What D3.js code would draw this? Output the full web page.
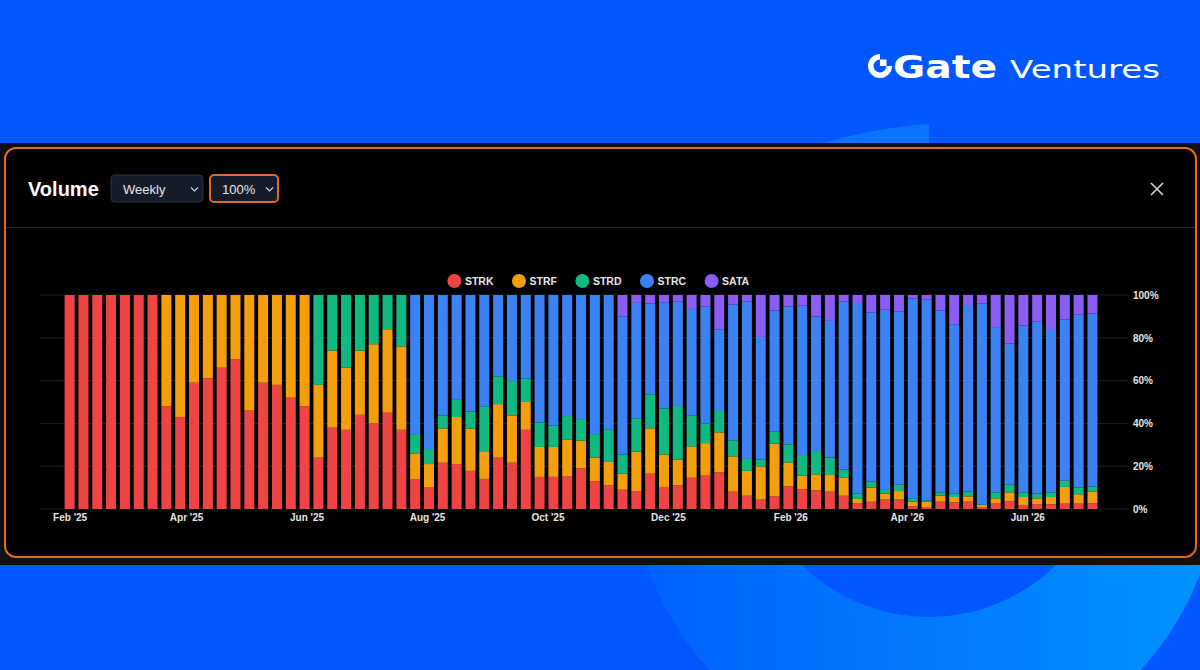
<!DOCTYPE html>
<html lang="en">
<head>
<meta charset="UTF-8">
<title>Volume</title>
<script src="https://cdn.jsdelivr.net/npm/d3@7"></script>
<style>
  body { margin: 0; background: #0057ff; }
  svg { display: block; }
</style>
</head>
<body>
<script>
// series, in stack order (share of weekly volume, %)
var keys = ["STRK", "STRF", "STRD", "STRC", "SATA"];
var colors = ["#ef4444", "#f59e0b", "#10b981", "#3b82f6", "#8b5cf6"];

var strk = [100, 100, 100, 100, 100, 100, 100, 48, 43, 59, 61, 66, 70, 46, 59, 58, 52, 48,
  24, 38, 37, 44, 40, 45, 37,
  14, 10, 21.5, 21, 18, 14, 24, 21.5, 37, 15, 15, 15, 19, 13, 11,
  9, 8.4, 16.5, 10.3, 11, 14.6, 15.6, 17.1, 8.1, 6.2, 4.4, 5.9, 10.6, 9.3, 8.7, 8.1, 6.2, 2.8,
  3.4, 4.4, 4.4, 1.2, 0.9, 3.4, 3.1, 3.4, 0.9, 2.5, 3.7, 1.9, 2.2, 2.2, 2.5, 2.5, 2.7];
var strf = [0, 0, 0, 0, 0, 0, 0, 52, 57, 41, 39, 34, 30, 54, 41, 42, 48, 52,
  34, 36, 29, 30, 37, 39, 39,
  12, 11, 16, 22, 20, 12.5, 25, 22, 13, 14, 14, 17, 13, 11, 11,
  7.5, 18.4, 21.2, 15.2, 12, 14.7, 15.2, 18.7, 16.5, 11.6, 15.5, 24.6, 11.2, 6.3, 7.5, 7.8, 8.4, 1.9,
  6.6, 2.8, 4.0, 2.2, 2.5, 2.8, 2.5, 2.5, 1.0, 2.5, 4.1, 3.7, 2.8, 3.4, 7.8, 4.4, 5.5];
var strd = [0, 0, 0, 0, 0, 0, 0, 0, 0, 0, 0, 0, 0, 0, 0, 0, 0, 0,
  42, 26, 34, 26, 23, 16, 24,
  9, 7, 6, 8, 8, 21, 13, 16, 11, 11.5, 10, 11, 10, 11, 15,
  9, 15.6, 15.9, 21.5, 25, 14.3, 9.1, 10, 7.5, 5.6, 3.2, 5.6, 8.4, 9.6, 10.9, 8.1, 3.8, 2.5,
  2.8, 2.1, 3.1, 1.6, 0.6, 1.6, 1.6, 2.2, 0.3, 2.8, 3.7, 2.2, 2.2, 2.2, 3.1, 3.1, 2.2];
var strc = [0, 0, 0, 0, 0, 0, 0, 0, 0, 0, 0, 0, 0, 0, 0, 0, 0, 0,
  0, 0, 0, 0, 0, 0, 0,
  65, 72, 56, 49, 55, 52, 38, 40, 39, 59.5, 61, 56, 58, 65, 63,
  64.5, 53.9, 42.4, 49.6, 48.6, 49.9, 54.8, 38, 63.5, 73.5, 57.3, 56.7, 64.5, 69.8, 62.9, 63.9, 78.5, 89.1,
  79.1, 83.8, 80.7, 93.4, 93.8, 85.0, 79.1, 87.2, 93.8, 77.2, 65.8, 77.9, 80.3, 76.3, 75.1, 81.0, 80.9];
var sata = [0, 0, 0, 0, 0, 0, 0, 0, 0, 0, 0, 0, 0, 0, 0, 0, 0, 0,
  0, 0, 0, 0, 0, 0, 0,
  0, 0, 0, 0, 0, 0, 0, 0, 0, 0, 0, 0, 0, 0, 0,
  10, 3.7, 4, 3.4, 3.1, 6.5, 5.3, 16.2, 4.4, 3.1, 19.6, 7.2, 5.3, 5.0, 10, 12.1, 3.1, 3.7,
  8.1, 6.9, 7.8, 1.6, 2.2, 7.2, 13.7, 4.7, 4.0, 15.0, 22.7, 14.3, 12.5, 15.9, 11.5, 9.0, 8.7];

var firstWeek = new Date(2025, 1, 1);
var xTickDates = ["2025-02-01", "2025-04-01", "2025-06-01", "2025-08-01", "2025-10-01",
  "2025-12-01", "2026-02-01", "2026-04-01", "2026-06-01"];
var yTicks = [0, 0.2, 0.4, 0.6, 0.8, 1];

var width = 1200, height = 670;
var parseDay = d3.timeParse("%Y-%m-%d");

var rows = strk.map(function (v, i) {
  return {
    date: d3.timeDay.offset(firstWeek, 7 * i),
    STRK: v, STRF: strf[i], STRD: strd[i], STRC: strc[i], SATA: sata[i]
  };
});

var svg = d3.select("body").append("svg")
  .attr("width", width)
  .attr("height", height)
  .style("font-family", "'Liberation Sans', Arial, sans-serif");

// ---- background ----
var defs = svg.append("defs");
var ringGrad = defs.append("linearGradient").attr("id", "ring")
  .attr("x1", "0").attr("x2", "1").attr("y1", "0").attr("y2", "0");
ringGrad.append("stop").attr("offset", "0").attr("stop-color", "#0060ff");
ringGrad.append("stop").attr("offset", "1").attr("stop-color", "#0094ff");
defs.append("clipPath").attr("id", "topband")
  .append("rect").attr("x", 0).attr("y", 0).attr("width", 929).attr("height", 143);

svg.append("rect").attr("width", width).attr("height", height).attr("fill", "#0057ff");
svg.append("circle").attr("cx", 925).attr("cy", 470).attr("r", 294).attr("fill", "url(#ring)");
svg.append("circle").attr("cx", 929).attr("cy", 436).attr("r", 181).attr("fill", "#0057ff");
svg.append("circle").attr("cx", 960).attr("cy", 600).attr("r", 477)
  .attr("fill", "#0a74ff").attr("clip-path", "url(#topband)");

// logo
var logo = svg.append("g").attr("fill", "#fff");
logo.append("path")
  .attr("d", d3.arc()({ innerRadius: 6.5, outerRadius: 12, startAngle: Math.PI / 2, endAngle: 2 * Math.PI }))
  .attr("transform", "translate(880,66)");
logo.append("rect").attr("x", 880).attr("y", 59.5).attr("width", 6.5).attr("height", 6.5);
logo.append("text").attr("x", 893).attr("y", 78)
  .attr("font-family", "'DejaVu Sans', sans-serif").attr("font-weight", 700)
  .attr("font-size", 32).attr("textLength", 104).attr("lengthAdjust", "spacingAndGlyphs")
  .text("Gate");
logo.append("text").attr("x", 1010).attr("y", 78)
  .attr("font-family", "'DejaVu Sans', sans-serif").attr("font-weight", 400)
  .attr("font-size", 25).attr("textLength", 150).attr("lengthAdjust", "spacingAndGlyphs")
  .text("Ventures");

// ---- panel ----
svg.append("rect").attr("x", 0).attr("y", 143).attr("width", width).attr("height", 422)
  .attr("fill", "#0e1016");
svg.append("rect").attr("x", 5).attr("y", 148).attr("width", 1191).attr("height", 409)
  .attr("rx", 11).attr("fill", "#000").attr("stroke", "#e2691d").attr("stroke-width", 2);

svg.append("text").attr("x", 28).attr("y", 196).attr("fill", "#fff")
  .attr("font-size", 20).attr("font-weight", 700).text("Volume");

function selectBox(x, w, label, border) {
  var g = svg.append("g");
  g.append("rect").attr("x", x).attr("y", 175).attr("width", w).attr("height", 27)
    .attr("rx", 4).attr("fill", "#151b28").attr("stroke", border)
    .attr("stroke-width", border === "#2b3240" ? 1 : 2);
  g.append("text").attr("x", x + 12).attr("y", 193.5).attr("fill", "#e5e7eb")
    .attr("font-size", 13).attr("font-weight", 500).text(label);
  g.append("path")
    .attr("d", "M" + (x + w - 12) + ",187.5 l3.5,3.5 l3.5,-3.5")
    .attr("fill", "none").attr("stroke", "#cbd5e1").attr("stroke-width", 1.2);
}
selectBox(111, 92, "Weekly", "#2b3240");
selectBox(210, 68, "100%", "#e2691d");

svg.append("path").attr("d", "M1151,183 l12,12 M1163,183 l-12,12")
  .attr("stroke", "#d1d5db").attr("stroke-width", 1.6);

svg.append("line").attr("x1", 6).attr("x2", 1195).attr("y1", 227.5).attr("y2", 227.5)
  .attr("stroke", "#262626");

// ---- chart ----
var x = d3.scaleTime()
  .domain([new Date(2025, 0, 17), new Date(2026, 6, 22)])
  .range([40, 1128]);
var y = d3.scaleLinear().domain([0, 1]).range([509, 295]);
var barW = 10;

var series = d3.stack().keys(keys).offset(d3.stackOffsetExpand)(rows);

svg.append("g").selectAll("line")
  .data(yTicks)
  .enter().append("line")
  .attr("x1", 40).attr("x2", 1128)
  .attr("y1", function (d) { return y(d); })
  .attr("y2", function (d) { return y(d); })
  .attr("stroke", "#1e1e1e");

svg.append("g").selectAll("g")
  .data(series)
  .enter().append("g")
  .attr("fill", function (d, i) { return colors[i]; })
  .selectAll("rect")
  .data(function (d) { return d; })
  .enter().append("rect")
  .attr("x", function (d) { return x(d.data.date) - barW / 2; })
  .attr("width", barW)
  .attr("y", function (d) { return y(d[1]); })
  .attr("height", function (d) { return Math.max(0, y(d[0]) - y(d[1])); });

var xAxis = svg.append("g")
  .attr("transform", "translate(0,509)")
  .call(d3.axisBottom(x)
    .tickValues(xTickDates.map(parseDay))
    .tickFormat(d3.timeFormat("%b '%y"))
    .tickSize(0).tickPadding(5));
var yAxis = svg.append("g")
  .attr("transform", "translate(1128,0)")
  .call(d3.axisRight(y)
    .tickValues(yTicks)
    .tickFormat(d3.format(".0%"))
    .tickSize(0).tickPadding(5));
[xAxis, yAxis].forEach(function (a) {
  a.select(".domain").remove();
  a.selectAll("text")
    .attr("fill", "#e5e5e5")
    .style("font-size", "10px")
    .style("font-weight", 700)
    .style("font-family", "'Liberation Sans', Arial, sans-serif");
});

// legend
var legend = svg.append("g").attr("transform", "translate(0,281)");
var items = legend.selectAll("g").data(keys).enter().append("g");
items.append("circle").attr("r", 7).attr("fill", function (d, i) { return colors[i]; });
items.append("text").attr("x", 10.5).attr("dy", "0.35em")
  .attr("fill", "#e5e5e5").attr("font-size", 10.5).attr("font-weight", 700)
  .text(function (d) { return d; });
var pos = [], cx = 0;
items.each(function () {
  var w = d3.select(this).select("text").node().getComputedTextLength();
  pos.push(cx);
  cx += 7 + 10.5 + w - 3.5 + 22;
});
var total = cx - 22 + 7;
var start = 600 - total / 2 + 7;
items.attr("transform", function (d, i) { return "translate(" + (start + pos[i]) + ",0)"; });
</script>
</body>
</html>
